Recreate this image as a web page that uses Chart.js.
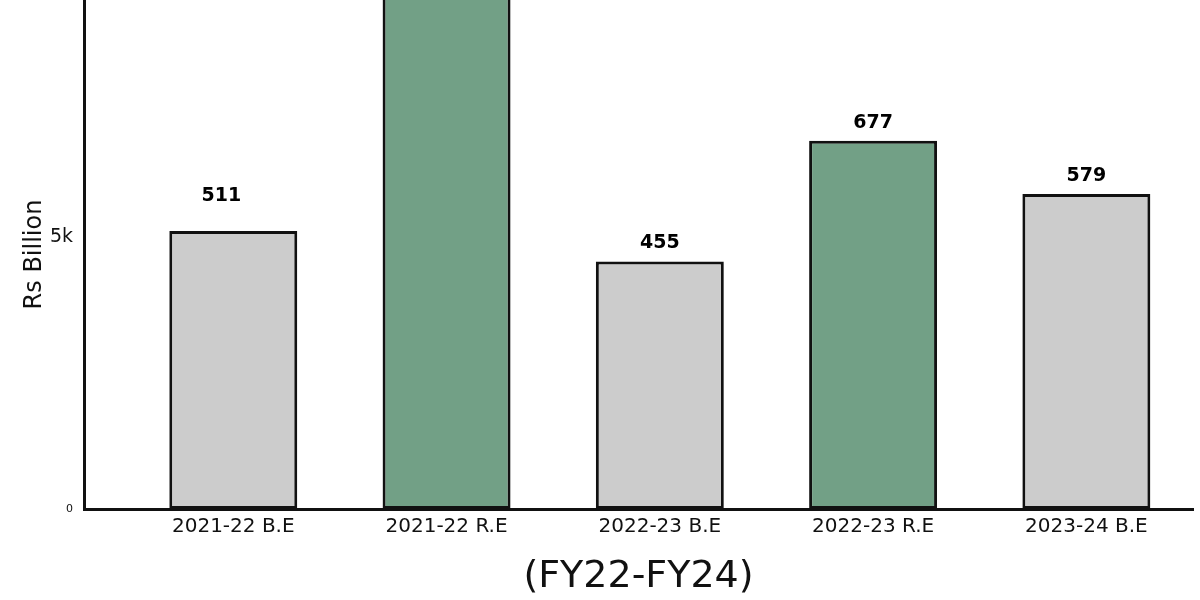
<!DOCTYPE html>
<html>
<head>
<meta charset="utf-8">
<script src="https://cdn.jsdelivr.net/npm/chart.js@4.4.1/dist/chart.umd.min.js"></script>
<style>
html,body{margin:0;padding:0;background:#fff;}
#wrap{width:1200px;height:600px;}
</style>
</head>
<body>
<div id="wrap"><canvas id="c" width="1200" height="600"></canvas></div>
<script>
const categories = ["2021-22 B.E", "2021-22 R.E", "2022-23 B.E", "2022-23 R.E", "2023-24 B.E"];
const values = [5110, 10000, 4550, 6770, 5790];
const valueLabels = ["511", "", "455", "677", "579"];
const barColors = ["#cccccc", "#72a086", "#cccccc", "#72a086", "#cccccc"];
const yTickValues = [0, 5000];
const yTickLabels = ["0", "5k"];

const FONT = "'DejaVu Sans', sans-serif";

const labelPlugin = {
  id: 'valueLabels',
  afterDatasetsDraw(chart) {
    const ctx = chart.ctx;
    const meta = chart.getDatasetMeta(0);
    ctx.save();
    ctx.fillStyle = '#000';
    ctx.font = 'bold 19px ' + FONT;
    ctx.textAlign = 'center';
    ctx.textBaseline = 'middle';
    meta.data.forEach((bar, i) => {
      const t = valueLabels[i];
      if (!t) return;
      const extra = i === 0 ? 35 : 18;
      ctx.fillText(t, bar.x - (i === 0 ? 12 : 0), bar.y - extra);
    });
    ctx.restore();
  }
};

new Chart(document.getElementById('c'), {
  type: 'bar',
  data: {
    datasets: [{
      data: values.map((v, i) => ({x: i, y: v})),
      backgroundColor: barColors,
      borderColor: '#111',
      borderWidth: 3,
      borderSkipped: false,
      categoryPercentage: 1.0,
      barPercentage: 0.6
    }]
  },
  options: {
    responsive: false,
    animation: false,
    layout: {padding: {left: 0, right: 7, top: 0, bottom: 0}},
    plugins: {legend: {display: false}, tooltip: {enabled: false}},
    scales: {
      x: {
        type: 'linear',
        offset: false,
        min: -0.7,
        max: 4.5,
        afterBuildTicks(scale) { scale.ticks = categories.map((c, i) => ({value: i})); },
        afterFit(scale) { scale.height = 91; scale.paddingLeft = 0; scale.paddingRight = 0; },
        grid: {display: false, drawTicks: false, offset: false},
        border: {display: true, color: '#111', width: 3},
        ticks: {
          padding: 6,
          color: '#111',
          font: {family: FONT, size: 20},
          autoSkip: false,
          maxRotation: 0,
          callback: (v) => categories[v] ?? ''
        },
        title: {
          display: true,
          text: '(FY22-FY24)',
          color: '#111',
          font: {family: FONT, size: 38},
          padding: {top: 0, bottom: 0}
        }
      },
      y: {
        min: 0,
        max: 9357,
        afterBuildTicks(scale) { scale.ticks = yTickValues.map(v => ({value: v})); },
        afterFit(scale) { scale.width = 84; scale.paddingTop = 0; scale.paddingBottom = 0; },
        grid: {display: false, drawTicks: false},
        border: {display: true, color: '#111', width: 3},
        ticks: {
          padding: 11,
          color: '#111',
          font: (ctx) => ({family: FONT, size: (ctx.tick && ctx.tick.value === 0) ? 11 : 19}),
          callback: (v) => yTickLabels[yTickValues.indexOf(v)] ?? ''
        },
        title: {
          display: true,
          text: 'Rs Billion',
          color: '#111',
          font: {family: FONT, size: 24},
          padding: {top: 20, bottom: 0}
        }
      }
    }
  },
  plugins: [labelPlugin]
});
</script>
</body>
</html>
